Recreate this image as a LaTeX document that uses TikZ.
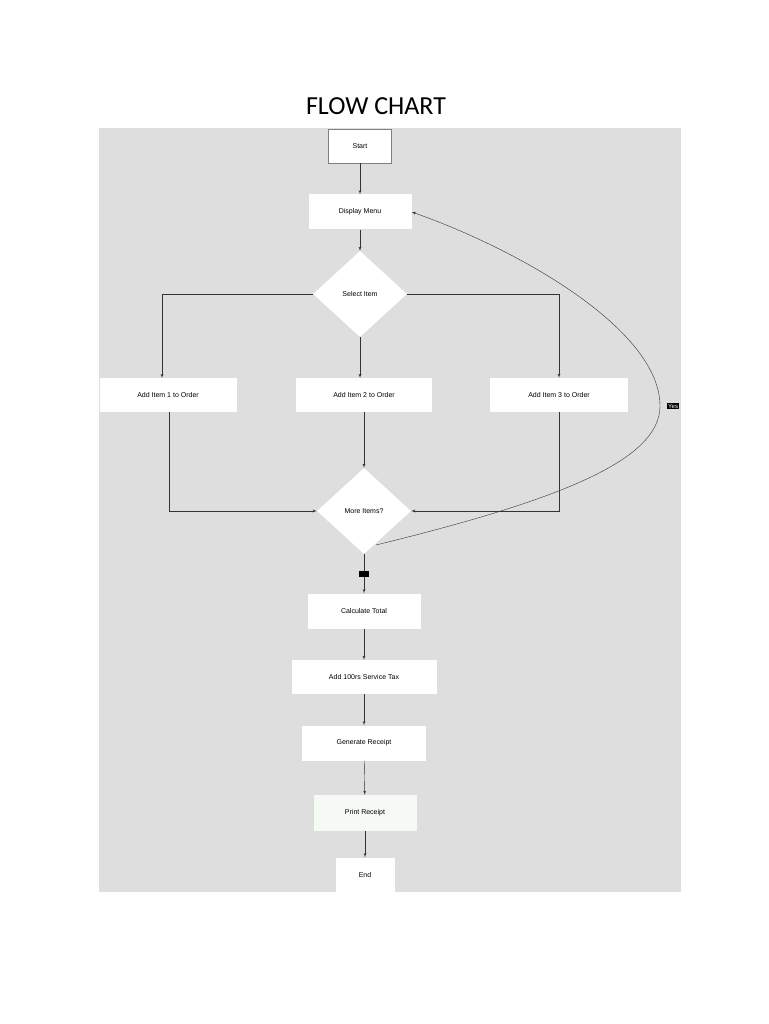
\documentclass[tikz,border=0pt]{standalone}
\usepackage{fontspec}
\setmainfont{Liberation Sans}
\newfontfamily\titlefont{Carlito}
\usetikzlibrary{arrows,shapes.geometric}
\definecolor{panel}{RGB}{222,222,222}
\definecolor{printfill}{RGB}{246,250,244}
\begin{document}
\begin{tikzpicture}[x=1pt,y=-1pt]
\tikzset{box/.style = {shape=rectangle,fill=white,inner sep=0pt,font=\fontsize{7}{8}\selectfont}}
\tikzset{choice/.style = {shape=diamond,fill=white,inner sep=0pt,minimum width=94pt,minimum height=86pt,font=\fontsize{7}{8}\selectfont}}
\tikzset{edge/.style = {->,> = latex',thin,black!80}}
\tikzset{tag/.style = {fill=black,inner sep=1pt,font=\fontsize{6}{7}\selectfont}}
\useasboundingbox (0,0) rectangle (768,1024);
\fill[white] (0,0) rectangle (768,1024);
\node[font=\titlefont\fontsize{26}{30}\selectfont] (title) at (376,106) {FLOW CHART};
\fill[panel] (99,128) rectangle (681,892);
% boxes
\node[box,draw=gray,thick,minimum width=63pt,minimum height=34pt] (start) at (360,146) {Start};
\node[box,minimum width=103pt,minimum height=35pt] (menu) at (360,212) {Display Menu};
\node[choice] (select) at (360,294) {Select Item};
\node[box,minimum width=137pt,minimum height=34pt] (one) at (168,395) {Add Item 1 to Order};
\node[box,minimum width=136pt,minimum height=34pt] (two) at (364,395) {Add Item 2 to Order};
\node[box,minimum width=138pt,minimum height=34pt] (three) at (559,395) {Add Item 3 to Order};
\node[choice] (more) at (364,511) {More Items?};
\node[box,minimum width=113pt,minimum height=35pt] (total) at (364,611) {Calculate Total};
\node[box,minimum width=145pt,minimum height=34pt] (tax) at (364,677) {Add 100rs Service Tax};
\node[box,minimum width=124pt,minimum height=35pt] (receipt) at (364,743) {Generate Receipt};
\node[box,fill=printfill,minimum width=103pt,minimum height=36pt] (print) at (365,813) {Print Receipt};
\node[box,minimum width=59pt,minimum height=35pt] (end) at (365,875) {End};
\coordinate (in1) at (162,378);
\coordinate (out1) at (169,412);
\coordinate (in2) at (360,378);
\coordinate (tail) at (376,545);
\coordinate (loop) at (660,406);
%edges
\draw[edge] (start) to (menu);
\draw[edge] (menu) to (select);
\draw[edge] (select.west) -| (in1);
\draw[edge] (select) to (in2);
\draw[edge] (select.east) -| (three.north);
\draw[edge] (out1) |- (more.west);
\draw[edge] (three.south) |- (more.east);
\draw[edge] (two) to (more);
\draw[edge] (more) to node[tag,text=black] {No} (total);
\draw[edge] (total) to (tax);
\draw[edge] (tax) to (receipt);
\draw[edge] (receipt) to (print);
\draw[edge] (print) to (end);
\draw[edge] (tail) .. controls (560,500) and (660,460) .. (loop)
  .. controls (660,330) and (520,250) .. (menu.east);
\node[tag,text=white,anchor=west] (yes) at (667,406) {Yes};
\end{tikzpicture}
\end{document}
